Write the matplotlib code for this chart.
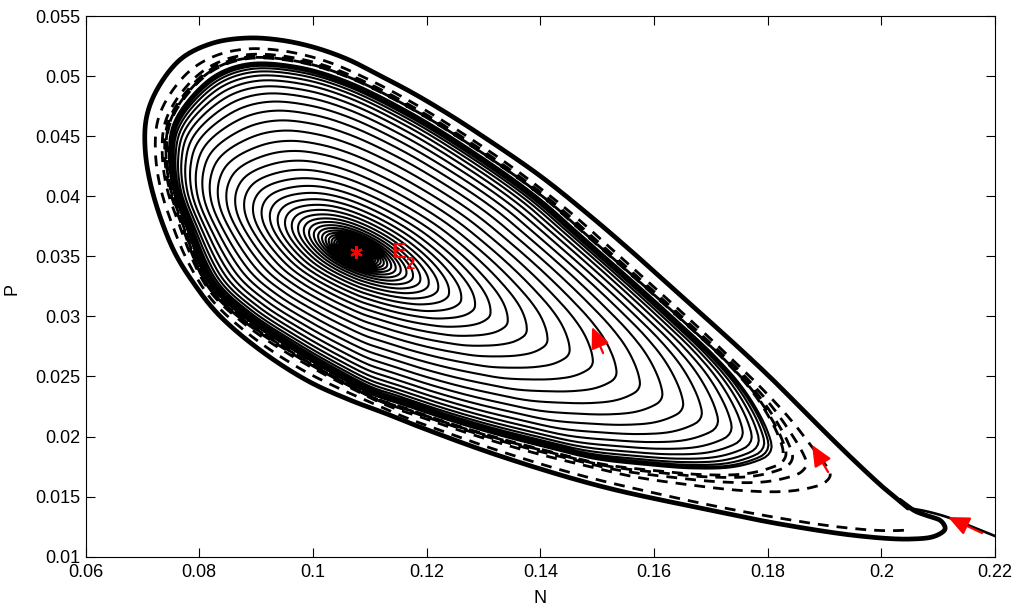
import numpy as np
import matplotlib
matplotlib.use("Agg")
import matplotlib.pyplot as plt

# ------------------------------------------------------------------
# Values (data units: N, P)
# ------------------------------------------------------------------
E2_N, E2_P = 0.1076, 0.0354                      # interior equilibrium E2

# outer (thick) trajectory loop, counter-clockwise from the saddle region
LOOP_N = [0.20470, 0.20066, 0.19626, 0.19151, 0.18570, 0.18095, 0.17515,
          0.16635, 0.15755, 0.14876, 0.13996, 0.12941, 0.12342, 0.11744,
          0.11164, 0.10601, 0.10002, 0.09422, 0.08841, 0.08243, 0.07698,
          0.07293, 0.07082, 0.07047, 0.07170, 0.07539, 0.07926, 0.08349,
          0.09070, 0.09915, 0.10653, 0.11304, 0.11885, 0.13292, 0.15052,
          0.16811, 0.18218, 0.19626, 0.20506, 0.20946, 0.21121,
          0.21051, 0.20822, 0.20594, 0.20330]
LOOP_P = [0.01405, 0.01563, 0.01754, 0.01971, 0.02245, 0.02470, 0.02729,
          0.03105, 0.03479, 0.03837, 0.04170, 0.04514, 0.04696, 0.04863,
          0.05008, 0.05142, 0.05242, 0.05300, 0.05317, 0.05275, 0.05150,
          0.04917, 0.04676, 0.04410, 0.04052, 0.03561, 0.03261, 0.03011,
          0.02720, 0.02462, 0.02304, 0.02188, 0.02079, 0.01838, 0.01588,
          0.01405, 0.01272, 0.01172, 0.01147, 0.01172, 0.01231,
          0.01297, 0.01339, 0.01380, 0.01468]
N_CURL = 4                                        # last points = curl back to saddle

# incoming branch of the thick trajectory (from the right border)
IN_N = [0.22001, 0.21649, 0.21157, 0.20770, 0.20470]
IN_P = [0.01172, 0.01239, 0.01330, 0.01380, 0.01405]

# limit cycle (outer edge of the solid spiral), counter-clockwise from its tip
LC_N = [0.18236, 0.18166, 0.17955, 0.17656, 0.17198, 0.16635, 0.15755,
        0.14876, 0.13996, 0.12941, 0.11762, 0.10601, 0.09721, 0.08841,
        0.08243, 0.07751, 0.07487, 0.07434, 0.07504, 0.07715, 0.08138,
        0.08718, 0.09598, 0.10390, 0.11058, 0.11533, 0.12413, 0.13292,
        0.14172, 0.15052, 0.15931, 0.16811, 0.17515, 0.17955, 0.18166]
LC_P = [0.01871, 0.02004, 0.02204, 0.02412, 0.02653, 0.02903, 0.03278,
        0.03644, 0.04010, 0.04368, 0.04718, 0.04992, 0.05117, 0.05142,
        0.05042, 0.04817, 0.04593, 0.04360, 0.04077, 0.03785, 0.03278,
        0.03003, 0.02720, 0.02496, 0.02329, 0.02254, 0.02113, 0.01988,
        0.01880, 0.01780, 0.01730, 0.01697, 0.01705, 0.01755, 0.01805]

# dashed trajectory: relative position (0 = limit cycle, 1 = outer loop)
# of its successive laps at the tip, last lap first
DASH_LAP_S = [0.90, 0.30, 0.155, 0.07, 0.03, 0.012]

# solid spiral: inner ellipse around E2 (aspect, tilt in degrees), turn rates
ELL_ASPECT, ELL_TILT = 2.7, -25.0
SPIRAL_RHO0, SPIRAL_RHO_END = 0.985, 0.004
RATE_INNER, RATE_OUTER = 0.018, 0.024

# red arrows (tail -> head)
ARR_TAIL_N = [0.15105, 0.19063, 0.21772]
ARR_TAIL_P = [0.02695, 0.01705, 0.01197]
ARR_HEAD_N = [0.14911, 0.18782, 0.21174]
ARR_HEAD_P = [0.02912, 0.01930, 0.01330]

XTICKS = [0.06, 0.08, 0.10, 0.12, 0.14, 0.16, 0.18, 0.20, 0.22]
XTICK_LABELS = ["0.06", "0.08", "0.1", "0.12", "0.14", "0.16", "0.18", "0.2", "0.22"]
YTICKS = [0.01, 0.015, 0.02, 0.025, 0.03, 0.035, 0.04, 0.045, 0.05, 0.055]
YTICK_LABELS = ["0.01", "0.015", "0.02", "0.025", "0.03", "0.035", "0.04",
                "0.045", "0.05", "0.055"]

# ------------------------------------------------------------------
# geometry helpers (isotropic screen-like frame centred on E2)
# ------------------------------------------------------------------
SX, SY = 5684.0, 12016.0


def to_xy(n, p):
    return np.column_stack([(np.asarray(n) - E2_N) * SX, (np.asarray(p) - E2_P) * SY])


def to_np(xy):
    return E2_N + xy[:, 0] / SX, E2_P + xy[:, 1] / SY


def cr_seg(p0, p1, p2, p3, n, alpha=0.5):
    def tj(ti, a, b):
        return ti + max(np.linalg.norm(b - a), 1e-9) ** alpha
    t0 = 0.0
    t1 = tj(t0, p0, p1)
    t2 = tj(t1, p1, p2)
    t3 = tj(t2, p2, p3)
    t = np.linspace(t1, t2, n, endpoint=False)[:, None]
    a1 = (t1 - t) / (t1 - t0) * p0 + (t - t0) / (t1 - t0) * p1
    a2 = (t2 - t) / (t2 - t1) * p1 + (t - t1) / (t2 - t1) * p2
    a3 = (t3 - t) / (t3 - t2) * p2 + (t - t2) / (t3 - t2) * p3
    b1 = (t2 - t) / (t2 - t0) * a1 + (t - t0) / (t2 - t0) * a2
    b2 = (t3 - t) / (t3 - t1) * a2 + (t - t1) / (t3 - t1) * a3
    return (t2 - t) / (t2 - t1) * b1 + (t - t1) / (t2 - t1) * b2


def smooth(pts, n=30, closed=False):
    P = np.asarray(pts, float)
    if closed:
        ext = np.vstack([P[-1], P, P[0], P[1]])
    else:
        ext = np.vstack([2 * P[0] - P[1], P, 2 * P[-1] - P[-2]])
    segs = [cr_seg(ext[i - 1], ext[i], ext[i + 1], ext[i + 2], n)
            for i in range(1, len(ext) - 2)]
    out = np.vstack(segs)
    if not closed:
        out = np.vstack([out, P[-1]])
    return out


def arc_resample(curve, m=4000):
    c = np.vstack([curve, curve[:1]])
    d = np.r_[0, np.cumsum(np.hypot(*np.diff(c, axis=0).T))]
    u = d / d[-1]
    uu = np.linspace(0, 1, m, endpoint=False)
    return np.column_stack([np.interp(uu, u, c[:, 0]), np.interp(uu, u, c[:, 1])])


def eval_periodic(res, u):
    m = len(res)
    f = np.mod(u, 1.0) * m
    i0 = np.floor(f).astype(int) % m
    i1 = (i0 + 1) % m
    w = (f - np.floor(f))[:, None]
    return res[i0] * (1 - w) + res[i1] * w


# ------------------------------------------------------------------
# build curves
# ------------------------------------------------------------------
lc_xy = smooth(to_xy(LC_N, LC_P), 40, closed=True)
loop_xy = smooth(to_xy(LOOP_N, LOOP_P), 30)
in_xy = smooth(to_xy(IN_N, IN_P), 20)

# polar description of the limit cycle around E2
th_lc = np.arctan2(lc_xy[:, 1], lc_xy[:, 0])
r_lc = np.hypot(lc_xy[:, 0], lc_xy[:, 1])
o = np.argsort(th_lc)
th_lc, r_lc = th_lc[o], r_lc[o]


def R_lc(th):
    return np.interp(np.mod(th + np.pi, 2 * np.pi) - np.pi, th_lc, r_lc, period=2 * np.pi)


phi = np.deg2rad(ELL_TILT)


def R_ell(th):
    a, b = 1.0, 1.0 / ELL_ASPECT
    return a * b / np.sqrt((b * np.cos(th - phi)) ** 2 + (a * np.sin(th - phi)) ** 2)


tt = np.linspace(-np.pi, np.pi, 2000, endpoint=False)
c_ell = np.exp(np.mean(np.log(R_lc(tt))) - np.mean(np.log(R_ell(tt))))

# solid spiral: from near the limit cycle inward to E2 (counter-clockwise)
lr = np.linspace(np.log(SPIRAL_RHO0), np.log(SPIRAL_RHO_END), 200000)
rr = np.exp(lr)
kk = RATE_INNER + (RATE_OUTER - RATE_INNER) * rr
integrand = 1.0 / (kk * (1 - rr ** 2))          # d(theta)/d(-ln rho)
theta_of = np.r_[0, np.cumsum(0.5 * (integrand[1:] + integrand[:-1]) * -np.diff(lr))]
theta = np.linspace(0, theta_of[-1], int(theta_of[-1] / (2 * np.pi) * 700))
rho = np.exp(np.interp(theta, theta_of, lr))
th_abs = theta + np.pi
w = rho
R = rho * np.exp(w * np.log(R_lc(th_abs)) + (1 - w) * np.log(c_ell * R_ell(th_abs)))
sp_xy = np.column_stack([R * np.cos(th_abs), R * np.sin(th_abs)])

# dashed spiral between limit cycle and outer loop (arc-length correspondence)
lc_res = arc_resample(lc_xy)                          # starts at the tip
env_pts = to_xy(LOOP_N[:-N_CURL], LOOP_P[:-N_CURL])
tip_i = len(env_pts) - 1
env_pts = np.roll(env_pts, -tip_i, axis=0)            # start at tip
env_res = arc_resample(smooth(env_pts, 40, closed=True))
laps = len(DASH_LAP_S) - 1
u_tot = np.linspace(-laps, -0.012, 6000)
s = np.exp(np.interp(u_tot, -np.arange(laps + 1)[::-1],
                     np.log(np.array(DASH_LAP_S[::-1]))))
dash_xy = (1 - s)[:, None] * eval_periodic(lc_res, u_tot) + s[:, None] * eval_periodic(env_res, u_tot)

# ------------------------------------------------------------------
# draw
# ------------------------------------------------------------------
plt.rcParams["font.family"] = ["Liberation Sans", "DejaVu Sans"]
fig = plt.figure(figsize=(10.24, 6.14), dpi=100)
ax = fig.add_axes([0.0835, 0.0933, 0.8882, 0.8806])

n_, p_ = to_np(sp_xy)
ax.plot(n_, p_, color="black", lw=1.5, solid_joinstyle="round", zorder=2)
n_, p_ = to_np(dash_xy)
ax.plot(n_, p_, color="black", lw=2.0, linestyle=(0, (3.9, 2.9)), zorder=3)
n_, p_ = to_np(loop_xy)
ax.plot(n_, p_, color="black", lw=3.4, solid_capstyle="round", zorder=4)
n_, p_ = to_np(in_xy)
ax.plot(n_, p_, color="black", lw=1.9, zorder=4)

for tn, tp, hn, hp in zip(ARR_TAIL_N, ARR_TAIL_P, ARR_HEAD_N, ARR_HEAD_P):
    ax.annotate("", xy=(hn, hp), xytext=(tn, tp),
                arrowprops=dict(arrowstyle="-|>,head_length=0.85,head_width=0.38",
                                color="red", lw=1.6, mutation_scale=15,
                                shrinkA=0, shrinkB=0), zorder=6)

ax.plot([E2_N], [E2_P], linestyle="none", marker=(6, 2, 0), markersize=9,
        markeredgewidth=1.6, color="red", zorder=7)
ax.text(0.1139, 0.03483, "E", color="red", fontsize=16, fontweight="bold",
        ha="left", va="baseline", zorder=7)
ax.text(0.1162, 0.03395, "2", color="red", fontsize=12, fontweight="bold",
        ha="left", va="baseline", zorder=7)

ax.set_xlim(0.06, 0.22)
ax.set_ylim(0.01, 0.055)
ax.set_xticks(XTICKS)
ax.set_xticklabels(XTICK_LABELS)
ax.set_yticks(YTICKS)
ax.set_yticklabels(YTICK_LABELS)
ax.tick_params(direction="in", length=6.5, width=0.8, top=True, right=True,
               labelsize=13, colors="black")
ax.tick_params(axis="x", pad=5.5)
ax.tick_params(axis="y", pad=4)
for sp in ax.spines.values():
    sp.set_linewidth(0.8)

ax.set_xlabel("N", fontsize=13)
ax.set_ylabel("P", fontsize=13)
ax.xaxis.set_label_coords(0.5, -0.0764)
ax.xaxis.label.set_verticalalignment("center")
ax.yaxis.set_label_coords(-0.081, 0.495)
ax.yaxis.label.set_verticalalignment("center")

fig.savefig("out.png", dpi=100)
